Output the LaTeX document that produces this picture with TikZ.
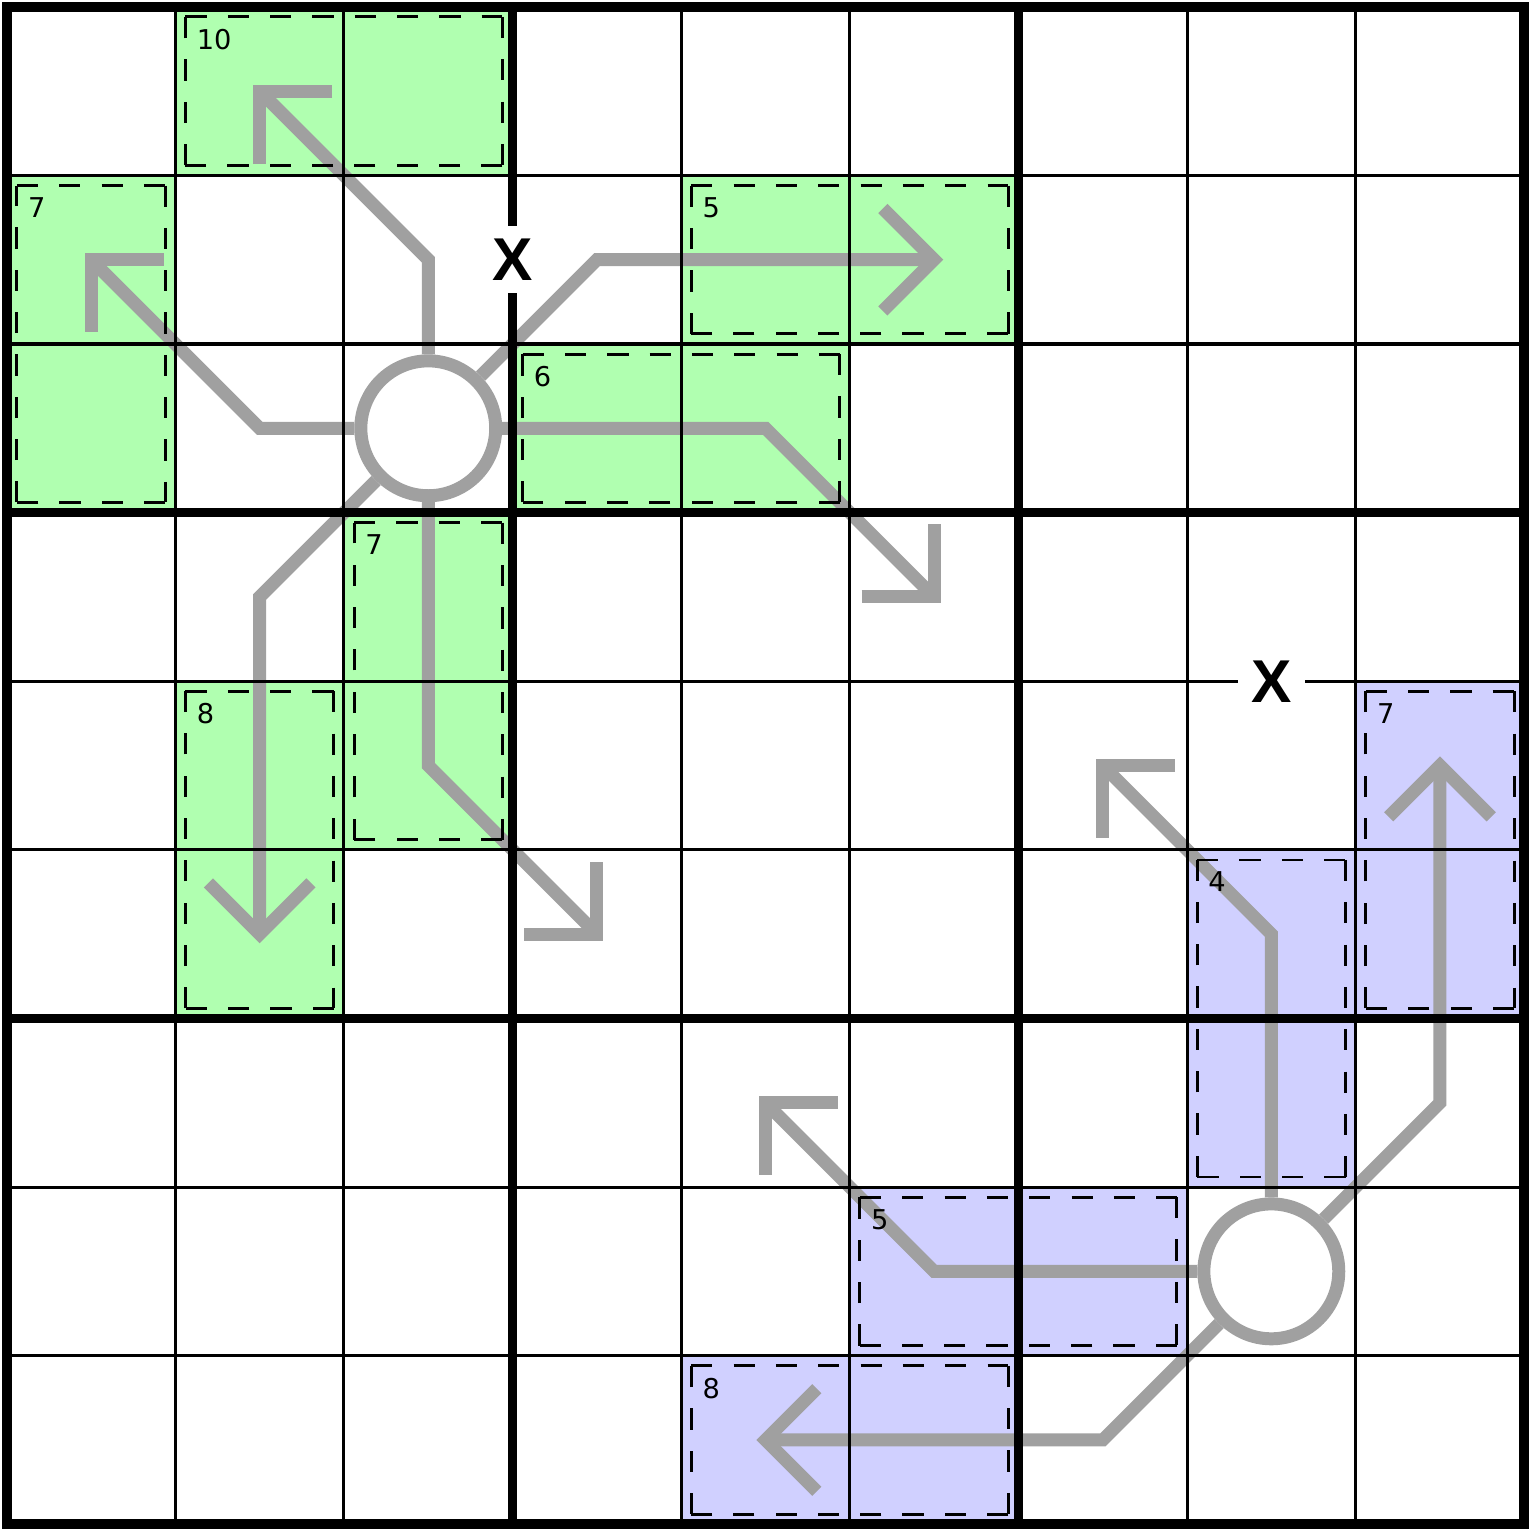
\documentclass[tikz,border=0pt]{standalone}
\usepackage{fontspec}
\setmainfont{DejaVu Sans}
\newfontfamily\markfont{Liberation Sans}
\usetikzlibrary{calc}
\definecolor{cagegreen}{HTML}{B0FFB0}
\definecolor{cageblue}{HTML}{D0D0FF}
\definecolor{routegray}{HTML}{A0A0A0}
\tikzset{
  route/.style={line width=0.077cm, routegray, line join=miter},
  thin grid/.style={line width=0.018cm},
  box line/.style={line width=0.055cm},
  cage line/.style={line width=0.017cm, dash pattern=on 0.1255cm off 0.1255cm},
  cage label/.style={anchor=north west, inner sep=0pt, font=\fontsize{4.6}{5}\selectfont},
  hub/.style={circle, draw=routegray, line width=0.077cm, fill=white, minimum size=0.8cm, inner sep=0pt},
  mark x/.style={fill=white, minimum size=0.4cm, inner sep=0pt, font=\markfont\fontsize{10.2}{12}\selectfont\bfseries}
}
\def\cagelist{1/0/2/1/10/cagegreen, 0/1/1/2/7/cagegreen, 4/1/2/1/5/cagegreen,
  3/2/2/1/6/cagegreen, 2/3/1/2/7/cagegreen, 1/4/1/2/8/cagegreen,
  8/4/1/2/7/cageblue, 7/5/1/2/4/cageblue, 5/7/2/1/5/cageblue, 4/8/2/1/8/cageblue}
\begin{document}
\begin{tikzpicture}[x=1cm, y=-1cm]
    \useasboundingbox (-0.04,-0.04) rectangle (9.04,9.04);

    % Fundo das gaiolas
    \foreach \c/\r/\w/\h/\n/\cor in \cagelist {
        \fill[\cor] (\c,\r) rectangle ++(\w,\h);
    }

    % Centros
    \node[hub] (hubA) at (2.5,2.5) {};
    \node[hub] (hubB) at (7.5,7.5) {};

    % Setas cinzentas
    \foreach \from/\bx/\by/\tx/\ty in {hubA/2.5/1.5/1.5/0.5, hubA/1.5/2.5/0.5/1.5, hubA/3.5/1.5/5.5/1.5,
        hubA/4.5/2.5/5.5/3.5, hubA/1.5/3.5/1.5/5.5, hubA/2.5/4.5/3.5/5.5,
        hubB/7.5/5.5/6.5/4.5, hubB/8.5/6.5/8.5/4.5, hubB/5.5/7.5/4.5/6.5, hubB/6.5/8.5/4.5/8.5} {
        \coordinate (bend) at (\bx,\by);
        \coordinate (tip) at (\tx,\ty);
        \draw[route] (\from) -- (bend) -- (tip);
        \draw[route] ($(tip)!0.43cm!45:(bend)$) -- (tip) -- ($(tip)!0.43cm!-45:(bend)$);
    }

    % Grade
    \foreach \i in {1,...,8} {
        \draw[thin grid] (\i,0) -- (\i,9);
        \draw[thin grid] (0,\i) -- (9,\i);
    }
    \foreach \i in {3,6} {
        \draw[box line] (\i,0) -- (\i,9);
        \draw[box line] (0,\i) -- (9,\i);
    }
    \draw[line width=0.06cm] (0,0) rectangle (9,9);

    % Contornos tracejados e somas
    \foreach \c/\r/\w/\h/\n/\cor in \cagelist {
        \coordinate (nw) at (\c+0.06,\r+0.06);
        \coordinate (se) at (\c+\w-0.06,\r+\h-0.06);
        \draw[cage line] (nw) -- (nw -| se) (nw -| se) -- (se) (se) -- (se -| nw) (se -| nw) -- (nw);
        \node[cage label] (sum-\c-\r) at (\c+0.12,\r+0.125) {\n};
    }

    % Marcas X
    \node[mark x] (xA) at (3,1.5) {X};
    \node[mark x] (xB) at (7.5,4) {X};
\end{tikzpicture}
\end{document}
